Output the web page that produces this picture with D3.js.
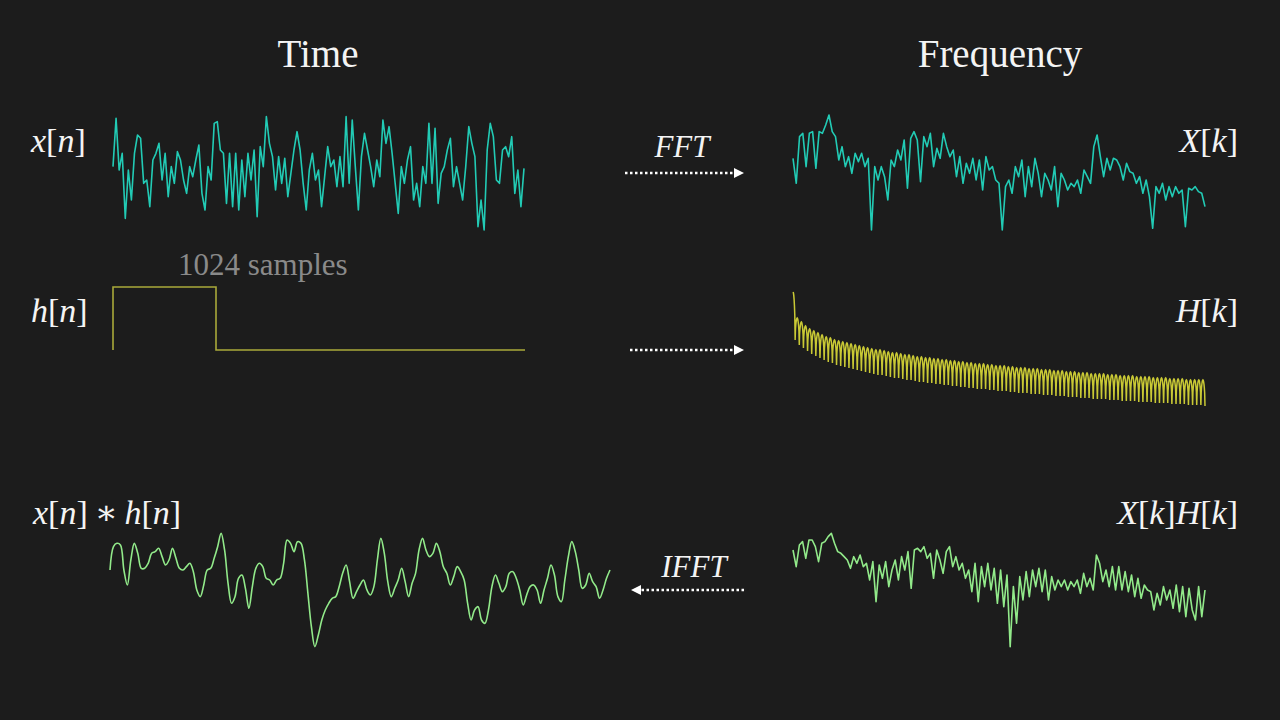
<!DOCTYPE html>
<html>
<head>
<meta charset="utf-8">
<script src="https://cdn.jsdelivr.net/npm/d3@7"></script>
<style>
  body { margin: 0; background: #1c1c1c; }
  text { font-family: "Liberation Serif", "DejaVu Serif", serif; fill: #f4f4f4; }
</style>
</head>
<body>
<div id="chart"></div>
<script>

// input signal x[n] (arbitrary amplitude)
var xSignal = [25,170,15,65,-130,15,-75,65,120,110,-25,-15,-95,45,65,95,-15,65,-65,25,-25,70,45,-15,-55,25,-5,45,90,-55,-105,25,-15,155,160,75,65,-85,65,-95,65,-105,45,-65,65,-15,75,-125,85,25,175,95,55,-45,55,-25,50,-65,5,75,130,75,-25,-105,15,65,-15,15,-95,-5,85,25,45,-35,55,-35,175,-25,165,25,-105,55,125,75,25,-35,45,-5,165,95,145,65,-25,-115,25,-25,45,85,-75,-25,-95,25,-25,155,-25,140,-85,5,25,75,110,-35,25,-25,-75,25,145,95,55,-155,-75,-165,75,155,115,-15,-25,75,85,55,115,-55,15,-95,20];

// spectrum |X[k]| (relative level)
var xSpectrum = [225,150,290,300,200,300,305,195,305,300,325,355,305,290,220,260,200,230,180,240,215,240,200,225,10,200,160,200,170,100,220,200,250,220,280,135,285,305,280,155,290,260,300,200,255,225,300,260,230,250,170,230,150,210,180,225,160,220,130,230,190,200,160,150,10,140,160,120,200,170,220,110,200,140,225,180,110,180,160,130,200,80,180,160,130,150,140,160,120,190,170,150,260,295,230,170,225,190,225,220,200,160,210,185,180,150,170,120,160,110,15,140,120,150,100,140,110,140,120,130,20,135,130,140,125,120,80];

// box filter h[n]
var hIndex = [0, 0, 1024, 1024, 4096];
var hValue = [0, 1, 1, 0, 0];

// |H[k]| lobes: attenuation of each lobe peak and of the notch after it
var hPeakAtt = [2,28,32,36,39,41,43,45,47,48,50,51,52,53,54,55,56,57,58,59,60,60,61,62,63,63,64,65,65,66,67,67,68,68,69,69,70,70,71,71,72,72,73,73,74,74,74,75,75,76,76,76,77,77,78,78,78,79,79,79,80,80,80,81,81,81,82,82,82,83,83,83,84,84,84,84,85,85,85,86,86,86,86,87,87,87,87,88,88,88,88,89,89,89,89,90,90,90,90,90];
var hNotchAtt = [50,55,58,61,64,66,68,70,72,73,75,76,77,78,79,80,81,82,83,84,85,85,86,87,88,88,89,90,90,91,92,92,93,93,94,94,95,95,96,96,97,97,98,98,99,99,99,100,100,101,101,101,102,102,103,103,103,104,104,104,105,105,105,106,106,106,107,107,107,108,108,108,109,109,109,109,110,110,110,111,111,111,111,112,112,112,112,113,113,113,113,114,114,114,114,115,115,115,115,116];

// product spectrum |X[k]H[k]|
var xhSpectrum = [310,260,325,335,285,340,340,320,275,330,335,350,360,330,305,300,290,280,255,290,270,295,260,270,220,275,155,265,225,275,200,250,280,220,290,250,305,195,310,315,305,320,285,300,225,310,280,240,305,320,260,290,250,270,225,250,185,270,155,260,200,270,190,255,150,250,140,235,20,200,90,230,160,245,170,250,200,255,185,250,160,230,190,220,200,220,190,215,200,220,180,240,200,225,190,295,270,215,250,200,260,190,260,190,245,185,235,170,225,165,205,190,185,130,180,145,200,160,190,135,205,125,200,110,195,130,100,200,110,190];

// filtered output x[n]*h[n]
var ySignal = [250,320,330,325,250,205,280,330,300,255,255,270,300,305,315,290,265,280,315,285,255,250,260,270,245,190,170,205,250,255,285,320,360,310,210,150,170,225,235,195,135,200,255,270,260,225,220,205,220,225,270,340,330,305,335,330,280,180,80,20,55,100,130,150,165,170,200,240,265,215,165,185,205,220,190,175,200,280,345,300,215,170,195,220,255,215,170,210,240,310,345,310,290,300,330,305,260,240,205,230,260,245,220,150,100,130,140,100,90,130,200,235,210,185,200,240,245,225,190,145,175,200,205,190,150,190,225,265,235,170,155,220,290,335,305,250,195,205,240,215,200,165,190,225,250];

var width = 1280, height = 720;
var teal = "#22cbb5", yellow = "#c9c935", hYellow = "#a9a93a", green = "#92ea8a";

var svg = d3.select("#chart").append("svg")
    .attr("width", width)
    .attr("height", height);

svg.append("rect").attr("width", width).attr("height", height).attr("fill", "#1c1c1c");

function drawSeries(values, x0, x1, domain, range, color, curve) {
    var xs = d3.scaleLinear().domain([0, values.length - 1]).range([x0, x1]);
    var ys = d3.scaleLinear().domain(domain).range(range);
    var line = d3.line()
        .x(function (d, i) { return xs(i) })
        .y(function (d) { return ys(d) })
        .curve(curve || d3.curveLinear);
    svg.append("path")
        .datum(values)
        .attr("d", line)
        .attr("fill", "none")
        .attr("stroke", color)
        .attr("stroke-width", 1.6)
        .attr("stroke-linejoin", "round");
}

// x[n]
drawSeries(xSignal, 113, 524, [0, 300], [175, 75], teal);
// X[k]
drawSeries(xSpectrum, 793, 1205, [0, 400], [233.3, 100], teal);
// XH[k]
drawSeries(xhSpectrum, 793, 1205, [0, 400], [653.3, 520], green);
// y[n]
drawSeries(ySignal, 110, 610, [0, 400], [653.3, 520], green, d3.curveCatmullRom);

// h[n]
var hx = d3.scaleLinear().domain([0, 4096]).range([113, 525]);
var hy = d3.scaleLinear().domain([0, 1]).range([350, 287]);
svg.append("path")
    .datum(d3.zip(hIndex, hValue))
    .attr("d", d3.line().x(function (d) { return hx(d[0]) }).y(function (d) { return hy(d[1]) }))
    .attr("fill", "none")
    .attr("stroke", hYellow)
    .attr("stroke-width", 1.6);

// H[k] lobes
var lobeX = d3.scaleLinear().domain([0, hPeakAtt.length]).range([791, 1205]);
var attY = d3.scaleLinear().domain([0, 120]).range([290, 410]);
var lobePts = [];
hPeakAtt.forEach(function (p, i) {
    var left = i === 0 ? p : hNotchAtt[i - 1];
    var right = hNotchAtt[i];
    var steps = 12;
    var start = i === 0 ? steps / 2 : 0;
    for (var s = start; s <= steps; s++) {
        var t = s / steps;
        var base = t < 0.5 ? left : right;
        var k = Math.pow(Math.sin(Math.PI * t), 0.5);
        lobePts.push([lobeX(i + t), attY(base - (base - p) * k)]);
    }
});
svg.append("path")
    .datum(lobePts)
    .attr("d", d3.line().curve(d3.curveLinear))
    .attr("fill", "none")
    .attr("stroke", yellow)
    .attr("stroke-width", 1.5);

// headings
svg.append("text").attr("x", 318).attr("y", 67).attr("text-anchor", "middle")
    .style("font-size", "39px").text("Time");
svg.append("text").attr("x", 1000).attr("y", 67).attr("text-anchor", "middle")
    .style("font-size", "39px").text("Frequency");

// math labels: letters italic, brackets and operators upright
function mathLabel(str, x, y, anchor, size) {
    var t = svg.append("text").attr("x", x).attr("y", y)
        .attr("text-anchor", anchor).style("font-size", size + "px");
    str.split(/([\[\]\s\u2217]+)/).forEach(function (part) {
        if (!part) return;
        var italic = /[A-Za-z]/.test(part);
        t.append("tspan")
            .style("font-style", italic ? "italic" : "normal")
            .attr("xml:space", "preserve")
            .text(part.replace(/ /g, "\u2009"));
    });
}
mathLabel("x[n]", 31, 152, "start", 34);
mathLabel("h[n]", 31, 322, "start", 34);
mathLabel("x[n] \u2217 h[n]", 33, 524, "start", 34);
mathLabel("X[k]", 1238, 152, "end", 34);
mathLabel("H[k]", 1238, 322, "end", 34);
mathLabel("X[k]H[k]", 1238, 524, "end", 34);

svg.append("text").attr("x", 178).attr("y", 275)
    .style("font-size", "31px").style("fill", "#8a8a8a").text("1024 samples");

// arrows
svg.append("defs").append("marker")
    .attr("id", "head").attr("viewBox", "0 0 10 10")
    .attr("refX", 1).attr("refY", 5)
    .attr("markerWidth", 4).attr("markerHeight", 4)
    .attr("orient", "auto")
    .append("path").attr("d", "M0,0 L10,5 L0,10 z").attr("fill", "#fff");

var arrows = [
    { x1: 625, x2: 735, y: 173, label: "FFT", ly: 157 },
    { x1: 630, x2: 735, y: 350, label: null },
    { x1: 744, x2: 640, y: 590, label: "IFFT", ly: 577 }
];
arrows.forEach(function (a) {
    svg.append("line")
        .attr("x1", a.x1).attr("x2", a.x2).attr("y1", a.y).attr("y2", a.y)
        .attr("stroke", "#fff").attr("stroke-width", 2.5)
        .attr("stroke-dasharray", "2.5,2.5")
        .attr("marker-end", "url(#head)");
    if (a.label) {
        svg.append("text")
            .attr("x", (a.x1 + a.x2) / 2 + 2).attr("y", a.ly)
            .attr("text-anchor", "middle").style("font-style", "italic")
            .style("font-size", "31px").text(a.label);
    }
});

</script>
</body>
</html>
